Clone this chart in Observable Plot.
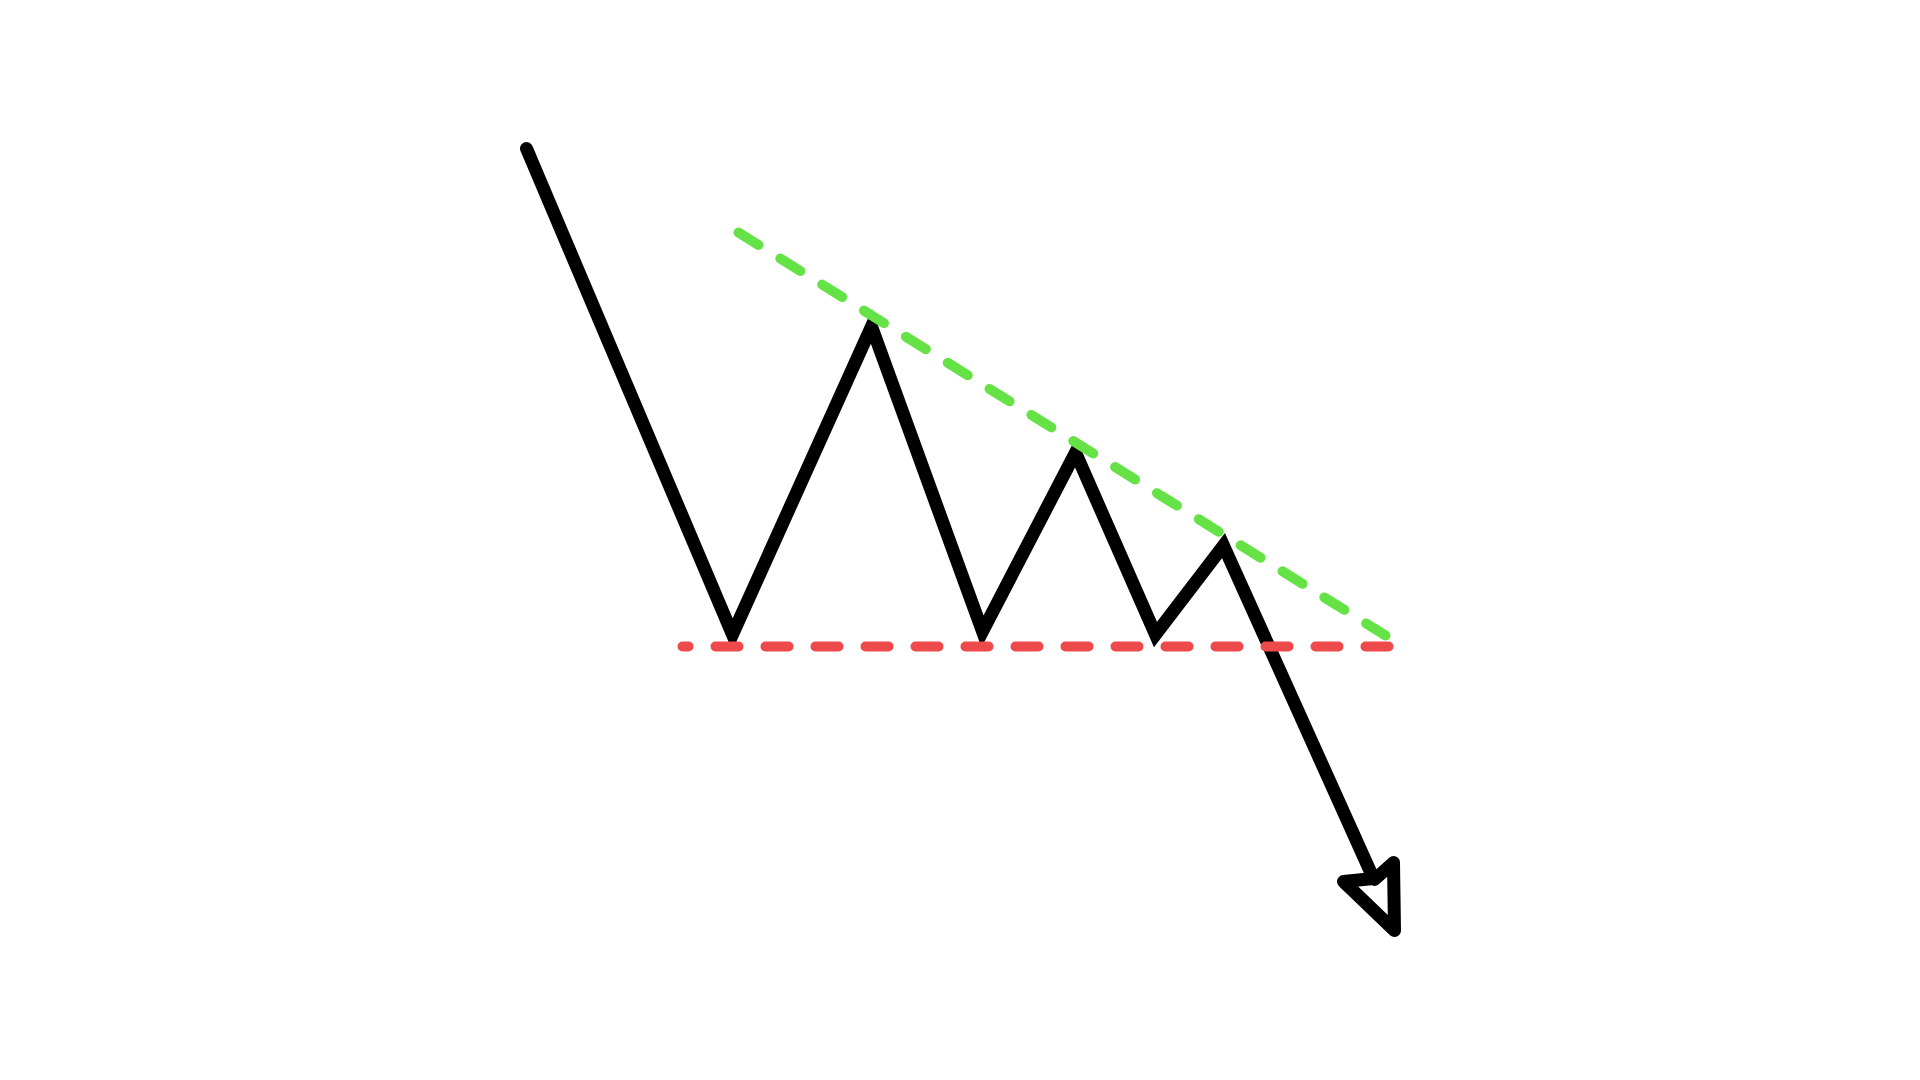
<!DOCTYPE html>
<html>
<head>
<meta charset="utf-8">
<script src="https://cdn.jsdelivr.net/npm/d3@7"></script>
<script src="https://cdn.jsdelivr.net/npm/@observablehq/plot@0.6"></script>
<style>
  html, body { margin: 0; padding: 0; background: #ffffff; overflow: hidden; }
  #chart svg { display: block; }
</style>
</head>
<body>
<div id="chart"></div>
<script>
// Price path (time, price) — descending triangle pattern
const pathTime  = [52.6, 73.2, 87.1, 98.2, 107.5, 115.5, 122.3, 137.3];
const pathPrice = [93.2, 44.6, 75.4, 44.9, 62.8, 44.6, 53.5, 20.2];

// Arrowhead outline at the end of the breakdown
const headTime  = [137.3, 134.3, 139.4, 139.3, 137.4];
const headPrice = [20.2, 19.9, 15.0, 21.8, 20.1];

// Descending resistance trendline (green)
const resistTime  = [73.8, 138.5];
const resistPrice = [84.8, 44.5];

// Flat support line (red), drawn right to left
const supportTime  = [138.8, 68.2];
const supportPrice = [43.4, 43.4];

const toRows = (ts, ps) => ts.map((t, i) => ({t, p: ps[i]}));

const chart = Plot.plot({
  width: 1920,
  height: 1080,
  margin: 0,
  x: {domain: [0, 192], axis: null},
  y: {domain: [0, 108], axis: null},
  style: {background: "#ffffff"},
  marks: [
    Plot.line(toRows(pathTime, pathPrice), {
      x: "t", y: "p", stroke: "#000000", strokeWidth: 13,
      strokeLinejoin: "miter", strokeMiterlimit: 4, strokeLinecap: "round"
    }),
    Plot.line(toRows(headTime, headPrice), {
      x: "t", y: "p", stroke: "#000000", strokeWidth: 13,
      strokeLinejoin: "round", strokeLinecap: "round"
    }),
    Plot.line(toRows(resistTime, resistPrice), {
      x: "t", y: "p", stroke: "#64e246", strokeWidth: 10,
      strokeDasharray: "23.5,25.8", strokeLinecap: "round"
    }),
    Plot.line(toRows(supportTime, supportPrice), {
      x: "t", y: "p", stroke: "#ef4a4b", strokeWidth: 10,
      strokeDasharray: "23,27", strokeLinecap: "round"
    })
  ]
});
document.getElementById("chart").appendChild(chart);
</script>
</body>
</html>
